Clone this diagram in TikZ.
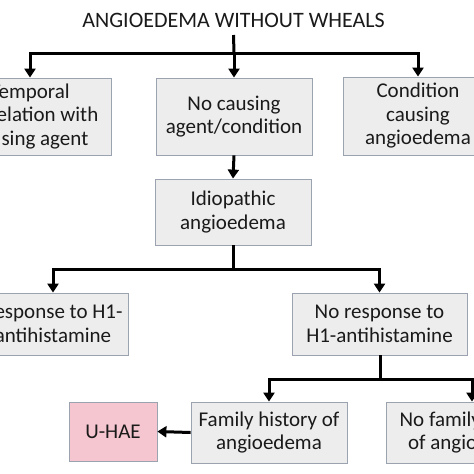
\documentclass[tikz,border=0pt]{standalone}
\usepackage{fontspec}
\setmainfont{Carlito}
\usetikzlibrary{arrows.meta}
\definecolor{boxfill}{HTML}{EDEDED}
\definecolor{boxline}{HTML}{9CA3B0}
\definecolor{pinkfill}{HTML}{F6C6D0}
\definecolor{txt}{HTML}{1A1A1A}
\tikzset{
  box/.style={draw=boxline, fill=boxfill, line width=0.8pt, align=center, inner sep=0pt,
    font=\fontsize{21}{23.5}\selectfont, text=txt},
  conn/.style={line width=3pt, black},
  arr/.style={conn, -{Triangle[length=9pt,width=11pt]}},
}
\begin{document}
\begin{tikzpicture}[x=1pt,y=-1pt]
\useasboundingbox (0,0) rectangle (474,474);
\clip (0,0) rectangle (474,474);
\node[font=\fontsize{22}{26}\selectfont, text=txt, inner sep=1pt] (title) at (233.5,20) {ANGIOEDEMA WITHOUT WHEALS};
\node[box, minimum width=162pt, minimum height=77pt] (t1) at (30,116.5) {Temporal\\\hspace*{28pt}relation with\\causing agent};
\node[box, minimum width=156pt, minimum height=77pt] (t2) at (234,116.5) {No causing\\agent/condition};
\node[box, minimum width=150pt, minimum height=78pt] (t3) at (418,116) {Condition\\causing\\angioedema};
\node[box, minimum width=156pt, minimum height=66pt] (idio) at (233,212) {Idiopathic\\angioedema};
\node[box, minimum width=150pt, minimum height=62pt] (r1) at (53,324) {Response to H1-\\antihistamine};
\node[box, minimum width=175pt, minimum height=62pt] (r2) at (379.5,324) {No response to\\H1-antihistamine};
\node[box, fill=pinkfill, minimum width=88pt, minimum height=59pt] (uhae) at (113,431.5) {U-HAE};
\node[box, minimum width=156pt, minimum height=61pt] (f2) at (269,432.5) {Family history of\\angioedema};
\node[box, minimum width=172pt, minimum height=61pt] (f3) at (472,432.5) {No family history\\of angioedema};
\coordinate (j1) at (234,53);
\coordinate (j2) at (233,269);
\coordinate (j3) at (380,379);
\draw[conn] (title.south |- 0,35) -- (j1);
\draw[arr] (j1) -| (t1.north);
\draw[arr] (j1) -- (t2.north);
\draw[arr] (j1) -| (t3.north);
\draw[arr] (t2.south) -- (idio.north);
\draw[conn] (idio.south) -- (j2);
\draw[arr] (j2) -| (r1.north);
\draw[arr] (j2) -| (r2.north);
\draw[conn] (r2.south -| j3) -- (j3);
\draw[arr] (j3) -| (f2.north);
\draw[arr] (j3) -| (f3.north);
\draw[arr] (f2.west) -- (uhae.east);
\end{tikzpicture}
\end{document}
